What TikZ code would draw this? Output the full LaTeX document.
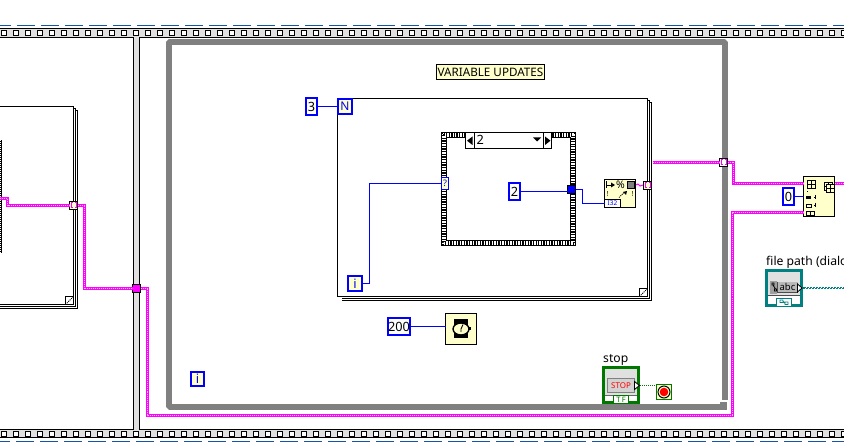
\documentclass[tikz,border=0pt]{standalone}
\usepackage{fontspec}
\setmainfont{Noto Sans}
\definecolor{lvblue}{HTML}{0000FF}
\definecolor{lvpink}{HTML}{FF00FF}
\definecolor{lvdot}{HTML}{FFC0FF}
\definecolor{lvcream}{HTML}{FFFFCC}
\definecolor{lvgray}{HTML}{808080}
\definecolor{lvstrip}{HTML}{E0E0E0}
\definecolor{lvdash}{HTML}{1555A5}
\definecolor{lvteal}{HTML}{008080}
\definecolor{lvgreen}{HTML}{007800}
\newcommand\lvbox[6][]{\node[lvbase,minimum width={(#5-#3)*1bp},minimum height={(#6-#4)*1bp},#1] (#2) at ({(#3+#5)/2},{(#4+#6)/2}) {};}
\newcommand\lvbrk[1]{\draw[lvpink,line width=1bp] ([shift={(-1,-2.5)}]#1.center) -- ++(-1.5,0) -- ++(0,5) -- ++(1.5,0) ([shift={(1,-2.5)}]#1.center) -- ++(1.5,0) -- ++(0,5) -- ++(-1.5,0);}
\newcommand\lvwire[1]{\draw[pinkw] #1;\draw[pinkd] #1;}
\tikzset{
  lvbase/.style={rectangle,inner sep=0pt,outer sep=0pt,line width=1bp},
  constbox/.style={draw=lvblue,fill=white,line width=2bp},
  indbox/.style={draw=lvblue,fill=lvcream,line width=2bp},
  funcbox/.style={draw=black,fill=lvcream,line width=1bp},
  tunnelbox/.style={draw=black,fill=lvcream,line width=1bp},
  numtext/.style={font=\fontsize{12.8}{13}\selectfont,text=black,inner sep=0pt},
  labeltext/.style={font=\fontsize{12.2}{13}\selectfont,text=black,inner sep=0pt,anchor=base west},
  pinkw/.style={draw=lvpink,line width=3bp},
  pinkd/.style={draw=lvdot,line width=.9bp,dash pattern=on 1bp off 1bp},
  bluew/.style={draw=lvblue,line width=1bp},
  tealw/.style={draw=lvteal,line width=1bp,dash pattern=on 2bp off 1bp},
  greenw/.style={draw=lvgreen,line width=1bp,dash pattern=on 1bp off 1bp},
  stripline/.style={draw=black,line width=1bp},
  hole/.style={draw=black,fill=white,line width=1bp},
  filmdash/.style={draw=lvdash,line width=1bp,dash pattern=on 18bp off 6bp},
  loopframe/.style={draw=lvgray,line width=6bp,line join=bevel},
  seqline/.style={draw=black,line width=1bp},
}
\begin{document}
\begin{tikzpicture}[x=1bp,y=-1bp]
\useasboundingbox (0,0) rectangle (844,443);
\clip (0,0) rectangle (844,443);
\fill[white] (0,0) rectangle (844,443);
% film strips
\fill[lvstrip] (0,28.5) rectangle (844,37.5);
\fill[lvstrip] (0,429.5) rectangle (844,437.5);
\draw[stripline] (0,28.5) -- (844,28.5) (0,37.5) -- (844,37.5);
\draw[stripline] (0,429.5) -- (844,429.5) (0,437.5) -- (844,437.5);
\foreach \k in {0,...,70}{
  \draw[hole] ({4+12*\k-2.5},30.5) rectangle ++(5,5);
  \draw[hole] ({4+12*\k-2.5},431.5) rectangle ++(5,5);
}
\draw[filmdash,dash phase=7bp] (0,25.5) -- (844,25.5);
\draw[filmdash,dash phase=8bp] (0,441.5) -- (844,441.5);
% frame divider
\fill[lvstrip] (133.5,36) rectangle (139.5,430);
\draw[stripline] (133.5,37.5) -- (133.5,429.5) (139.5,37.5) -- (139.5,429.5);
% left stacked frame
\fill[white] (0,106.5) rectangle (77.5,308.5);
\draw[seqline] (75.5,110.5) -- (77.5,110.5) -- (77.5,308.5) -- (0,308.5);
\draw[seqline] (73.5,108.5) -- (75.5,108.5) -- (75.5,306.5) -- (0,306.5);
\draw[seqline] (0,106.5) -- (73.5,106.5) -- (73.5,304.5) -- (0,304.5);
\draw[seqline,fill=white] (65.5,304.5) -- (65.5,296.5) -- (73.5,296.5);
\draw[seqline,densely dotted] (65.5,304.5) -- (73.5,296.5);
\fill[black] (0,140) rectangle (2,253);
\draw[white,line width=1bp,dash pattern=on 1bp off 1bp] (.5,140) -- (.5,253);
% while loop
\draw[loopframe] (725,400) -- (725,41.7) -- (169,41.7) -- (169,407) -- (725,407);
\fill[lvgray] (720,402) -- (727,402) -- (727,410) -- (720,410) -- cycle;
% for loop stacked frame
\fill[white] (337.5,98.5) rectangle (651.5,300.5);
\draw[seqline] (649.5,102.5) -- (651.5,102.5) -- (651.5,300.5) -- (341.5,300.5);
\draw[seqline] (647.5,100.5) -- (649.5,100.5) -- (649.5,298.5) -- (341.5,298.5);
\draw[seqline] (337.5,296.5) -- (337.5,98.5) -- (647.5,98.5) -- (647.5,296.5) -- cycle;
\draw[seqline,fill=white] (639.5,296.5) -- (639.5,288.5) -- (647.5,288.5);
\draw[seqline,densely dotted] (639.5,296.5) -- (647.5,288.5);
% case structure
\fill[black] (441,132) rectangle (576,246);
\fill[white] (447,138) rectangle (570,240);
\foreach \i/\ph in {1.67/0,3/1.33,4.33/0}{
  \draw[white,line width=1.33bp,dash pattern=on 1.33bp off 1.33bp,dash phase=\ph bp]
    ({441+\i},{132+\i}) rectangle ({576-\i},{246-\i});
}
\draw[black,line width=1bp] (441.5,132.5) rectangle (575.5,245.5);
\draw[black,line width=1bp] (446.5,137.5) rectangle (570.5,240.5);
% nodes
\lvbox[draw=black,fill=lvcream]{varlabel}{436.5}{64.5}{544.5}{79.5}
\lvbox[constbox]{three}{306}{98}{317}{115}
\lvbox[indbox]{nterm}{338}{99}{352}{114}
\lvbox[indbox]{iinner}{348}{276}{362}{291}
\lvbox[draw=lvblue,fill=lvcream,line width=1bp]{qtun}{441.5}{177.5}{448.5}{189.5}
\lvbox[constbox]{two}{509}{183}{520}{200}
\lvbox[draw=black,fill=lvblue]{btun}{567.5}{185.5}{575.5}{193.5}
\lvbox[funcbox]{fmt}{604.5}{179.5}{635.5}{207.5}
\lvbox[draw=black,fill=white]{ithree}{604.5}{199.5}{620.5}{207.5}
\lvbox[tunnelbox]{rtun}{643.5}{181.5}{651.5}{189.5}
\lvbox[tunnelbox,fill=white]{gtun}{719.5}{158.5}{727.5}{166.5}
\lvbox[tunnelbox]{ltun}{69.5}{201.5}{77.5}{209.5}
\lvbox[draw=black,fill=lvpink]{gate}{132.5}{284.5}{140.5}{292.5}
\lvbox[funcbox]{arr}{803.5}{176.5}{834.5}{216.5}
\lvbox[constbox]{zero}{783}{188}{794}{205}
\lvbox[constbox]{twoh}{388}{318}{410}{335}
\lvbox[funcbox]{wait}{445.5}{313.5}{476.5}{344.5}
\lvbox[indbox]{iouter}{191}{372}{204}{386}
\lvbox[funcbox,draw=lvgreen]{stopi}{656.5}{384.5}{671.5}{399.5}
\lvbox[draw=lvteal,fill=white,line width=3bp]{fpath}{766.5}{270.5}{801.5}{305.5}
\lvbox[draw=lvgreen,fill=white,line width=3bp]{stopt}{603.5}{367.5}{638.5}{402.5}
\coordinate (a1) at (84.5,205.5);
\coordinate (a2) at (147.5,288.5);
\coordinate (a3) at (147.5,415.5);
\coordinate (a4) at (732.5,415.5);
\coordinate (a5) at (732.5,212.5);
\coordinate (a6) at (733.5,162.5);
\coordinate (a7) at (733.5,183.5);
\coordinate (leftend) at (0,198.5);
\coordinate (leftbend) at (7.5,198.5);
\coordinate (rightend) at (844,183.5);
\coordinate (fpa) at (802.5,288);
\coordinate (fpb) at (844,288);
\coordinate (forout) at (652.5,162.5);
\coordinate (ib) at (369.5,283.5);
\coordinate (bb) at (582.5,189.5);
% wires
\lvwire{(leftend) -- (leftbend) |- (ltun.west)}
\lvwire{(ltun.east) -- (a1) |- (gate.west)}
\lvwire{(gate.east) -- (a2) -- (a3) -- (a4) -- (a5) -- (a5 -| arr.west)}
\lvwire{(forout) -- (gtun.west)}
\lvwire{(gtun.east) -- (a6) -- (a7) -- (a7 -| arr.west)}
\lvwire{(arr.east |- a7) -- (rightend)}
\draw[lvpink,line width=1bp] (636,185) -- (638,184) -- (640,186) -- (643,185);
\draw[bluew] (three.east) -- (nterm.west);
\draw[bluew] (iinner.east) -- (ib) |- (qtun.west);
\draw[bluew] (two.east) -- (two.east -| btun.west);
\draw[bluew] (btun.east |- bb) -- (bb) |- (ithree.west);
\draw[bluew] (zero.east) -- (zero.east -| arr.west);
\draw[bluew] (twoh.east) -- (twoh.east -| wait.west);
\draw[tealw] ([yshift=-.5bp]fpa) -- ([yshift=-.5bp]fpb);
\draw[tealw,dash phase=1.5bp] ([yshift=.5bp]fpa) -- ([yshift=.5bp]fpb);
\draw[greenw] (640,385.5) -- (656,385.5);
% labels
\node[numtext,font=\fontsize{11.7}{13}\selectfont] (vartxt) at (varlabel.center) {VARIABLE UPDATES};
\node[numtext] (threetxt) at (three) {3};
\node[numtext,text=lvblue,font=\fontsize{12}{13}\selectfont\bfseries] (ntxt) at (nterm) {N};
\node[numtext,text=lvblue,font=\fontsize{13}{13}\selectfont\bfseries] (itxt) at (iinner) {i};
\node[numtext,text=lvblue,font=\fontsize{13}{13}\selectfont\bfseries] (itxtb) at (iouter) {i};
\node[numtext,text=lvblue,font=\fontsize{9}{9}\selectfont] (qtxt) at (qtun) {?};
\node[numtext] (twotxt) at (two) {2};
\node[numtext] (zerotxt) at (zero) {0};
\node[numtext] (twohtxt) at (twoh) {200};
\node[numtext,text=lvblue,font=\fontsize{6.5}{7}\selectfont\bfseries] (ithreetxt) at (ithree) {I32};
\lvbrk{rtun}\lvbrk{gtun}\lvbrk{ltun}
% selector
\lvbox[draw=black,fill=white]{sel}{465.5}{132.5}{551.5}{148.5}
\draw[black,line width=1bp] (474,132.5) -- (474,148.5) (543,132.5) -- (543,148.5);
\fill[black] (472.5,136.5) -- (472.5,145) -- (467,140.7) -- cycle;
\fill[black] (545,136.5) -- (545,145) -- (550.5,140.7) -- cycle;
\fill[black] (533,137.5) -- (541,137.5) -- (537,141.5) -- cycle;
\node[numtext,anchor=base west] (seltxt) at (476.5,145) {2};
% format function icon
\draw[black,line width=.8bp] (606.5,181.5) -- (606.5,188.5) (606.5,185) -- (613,185);
\fill[black] (611,182.5) -- (615,185) -- (611,187.5) -- cycle;
\node[numtext,font=\fontsize{10.5}{11}\selectfont] (pct) at (620.5,185) {\%};
\fill[gray] (627.5,181) rectangle (634,188);
\draw[black,line width=.8bp] (627.5,181) rectangle (634,188);
\node[numtext,font=\fontsize{7}{7}\selectfont\bfseries] (ex1) at (607.5,194.5) {!};
\node[numtext,font=\fontsize{7}{7}\selectfont\bfseries] (ex2) at (632.5,194.5) {!};
\draw[black,line width=.8bp,dash pattern=on 1bp off 1bp] (619,197.5) -- (624,192.5);
\fill[black] (623,192) -- (627,191) -- (626,195) -- cycle;
% array function icon
\foreach \xa/\ya in {807.5/180.5,824/182,826/184}{
  \draw[black,fill=lvcream,line width=.8bp] (\xa,\ya) rectangle ++(8,8);
  \draw[black,line width=.6bp] (\xa+4,\ya) -- ++(0,8) (\xa,\ya+4) -- ++(8,0);
}
\fill[black] (806,196) rectangle (811,199);
\draw[black,line width=.8bp] (806,204) rectangle (811,207);
\draw[black,line width=.8bp] (814,197) -- (816,197) (815,195) -- (815,199);
\draw[black,line width=.8bp] (814,205) -- (816,205) (815,203) -- (815,207);
\draw[black,line width=.8bp] (806.5,211) rectangle (814,215) (810.2,211) -- (810.2,215);
\fill[black] (807,191) rectangle (808,192);
% wait icon
\fill[black] (454,319.5) rectangle (468,338.5);
\draw[black,fill=lvcream,line width=1.4bp] (461,329) ellipse (8 and 6);
\draw[black,line width=.9bp] (461,329) -- (463,324.5) (461,329) -- (461,332);
\fill[black] (469,327.5) rectangle (470.5,330.5);
% file path terminal
\fill[lvstrip] (768,272) rectangle (800,295);
\draw[black!70,line width=.8bp] (768,295) -- (800,295);
\fill[gray!75] (770,281) rectangle (777,294);
\draw[black,line width=.8bp] (772,283) rectangle (774,285) (774.5,289) rectangle (776.5,291) (773,285) -- (775.5,289);
\fill[gray!55] (777,282) rectangle (798,293);
\draw[black!70,line width=.8bp] (777,292.5) -- (798,292.5) (777.5,282) -- (777.5,293);
\node[numtext,font=\fontsize{9.5}{10}\selectfont] (abctxt) at (787.5,287) {abc};
\draw[black,fill=white,line width=.8bp] (797.5,284) -- (802,288) -- (797.5,292) -- cycle;
\lvbox[draw=lvteal,fill=white]{fptab}{776.5}{298.5}{791.5}{306.5}
\draw[lvteal,line width=.9bp] (780,300) rectangle ++(3,2.5) (785,302) rectangle ++(3,2.5) (783,301.3) -- (785,303.2);
\node[labeltext] (fplabel) at (766,265.5) {file path (dialog};
% stop terminal
\fill[lvstrip] (605,369) rectangle (637,395);
\draw[black!60,line width=.8bp] (605,395) -- (637,395);
\lvbox[draw=gray,fill=gray!35,line width=1.2bp]{stopbtn}{607.5}{378.5}{634.5}{392.5}
\node[numtext,text=red,font=\fontsize{8}{8}\selectfont\bfseries] (stoptxt) at (stopbtn.center) {STOP};
\draw[black,fill=white,line width=.9bp] (634.5,381.5) -- (639.5,385.5) -- (634.5,389.5) -- cycle;
\lvbox[draw=lvgreen,fill=white]{tftab}{613.5}{395.5}{628.5}{403.5}
\node[numtext,text=lvgreen,font=\fontsize{7.5}{8}\selectfont\bfseries] (tftxt) at (tftab.center) {T\,F};
\node[labeltext] (stoplabel) at (603,362.5) {stop};
\draw[black,fill=lvcream,line width=1bp] (stopi.center) circle (6);
\fill[red] (stopi.center) circle (4.3);
\end{tikzpicture}
\end{document}
